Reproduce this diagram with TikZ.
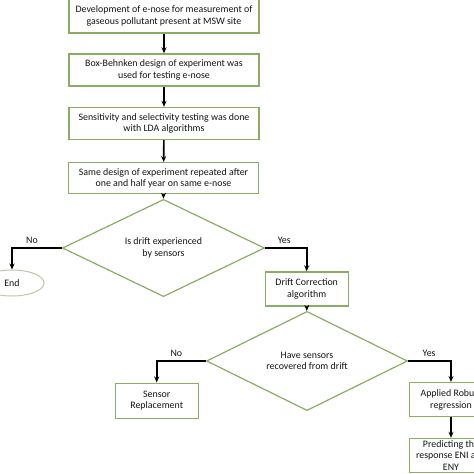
\documentclass[tikz,border=0pt]{standalone}
\usepackage{fontspec}
\setmainfont{Carlito}
\usetikzlibrary{shapes.geometric,arrows.meta}
\definecolor{boxgreen}{RGB}{140,172,100}
\definecolor{endgreen}{RGB}{185,200,165}
\definecolor{txt}{RGB}{20,20,20}
\tikzset{
  stepbox/.style={draw=boxgreen, line width=1.4pt, rectangle, inner sep=0pt, align=center, text=txt,
    font=\fontsize{9.9}{11.6}\selectfont},
  decide/.style={draw=boxgreen, line width=1.2pt, diamond, inner sep=0pt, align=center, text=txt,
    font=\fontsize{9.9}{11.6}\selectfont},
  endnode/.style={draw=endgreen, line width=1pt, ellipse, inner sep=0pt, text=txt,
    font=\fontsize{9.9}{11.6}\selectfont},
  flow/.style={draw=black, line width=1.6pt, -{Stealth[length=6pt,width=5pt]}},
  lbl/.style={text=txt, font=\fontsize{9.9}{11.6}\selectfont, above, yshift=1.5pt, inner sep=2pt}
}
\begin{document}
\begin{tikzpicture}[x=1pt,y=-1pt]
\useasboundingbox (0,0) rectangle (474,474);
\clip (0,0) rectangle (474,474);
\fill[white] (0,0) rectangle (474,474);

\node[stepbox, minimum width=190, minimum height=34] (b1) at (164,16)
  {Development of e-nose for measurement of\\gaseous pollutant present at MSW site};
\node[stepbox, minimum width=190, minimum height=32] (b2) at (164,70)
  {Box-Behnken design of experiment was\\used for testing e-nose};
\node[stepbox, minimum width=190, minimum height=32] (b3) at (164,123.5)
  {Sensitivity and selectivity testing was done\\with LDA algorithms};
\node[stepbox, minimum width=190, minimum height=31] (b4) at (163.5,178.2)
  {Same design of experiment repeated after\\one and half year on same e-nose};
\node[decide, minimum width=202, minimum height=66] (d1) at (163.5,248)
  {Is drift experienced\\by sensors};
\node[endnode, minimum width=64, minimum height=26] (e) at (12,283) {End};
\node[stepbox, minimum width=83, minimum height=34] (dc) at (306.7,289)
  {Drift Correction\\algorithm};
\node[decide, minimum width=201, minimum height=65] (d2) at (307,361)
  {Have sensors\\recovered from drift};
\node[stepbox, minimum width=83, minimum height=35] (sr) at (156.7,400.7)
  {Sensor\\Replacement};
\node[stepbox, minimum width=83, minimum height=34] (rr) at (451,399.7)
  {Applied Robust\\regression};
\node[stepbox, minimum width=83, minimum height=34] (pr) at (451,455.5)
  {Predicting the\\response ENI and\\ENY};

\draw[flow] (b1) -- (b2);
\draw[flow] (b2) -- (b3);
\draw[flow] (b3) -- (b4);
\draw[flow] (b4) -- (d1);
\draw[flow] (d1.west) -| node[lbl, pos=0.3] {No} (e.north);
\draw[flow] (d1.east) -| node[lbl, pos=0.23] {Yes} (dc.north);
\draw[flow] (dc) -- (d2);
\draw[flow] (d2.west) -| node[lbl, pos=0.3] {No} (sr.north);
\draw[flow] (d2.east) -| node[lbl, pos=0.245] {Yes} (rr.north);
\draw[flow] (rr) -- (pr);
\end{tikzpicture}
\end{document}
